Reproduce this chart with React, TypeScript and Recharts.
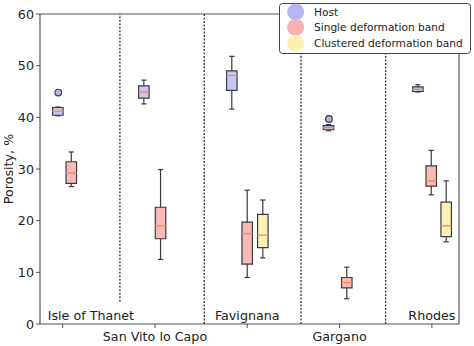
import React from "react";
import {
  Bar,
  ComposedChart,
  Legend,
  ReferenceArea,
  ReferenceLine,
  Scatter,
  XAxis,
  YAxis,
} from "recharts";

const sites = ["Isle of Thanet", "San Vito lo Capo", "Favignana", "Gargano", "Rhodes"];
const siteTicks = [1, 2, 3, 4, 5];
const yTicks = [0, 10, 20, 30, 40, 50, 60];
const xDomain = [0.754, 5.294];

// box stats per site: [min, q1, median, q3, max]
const hostPositions = [0.952, 1.884, 2.837, 3.885, 4.853];
const hostStats = [
  [40.3, 40.4, 41.2, 41.9, 42.0],
  [42.6, 43.7, 44.9, 46.1, 47.2],
  [41.6, 45.2, 48.1, 49.0, 51.8],
  [37.4, 37.6, 38.0, 38.4, 38.6],
  [44.9, 45.0, 45.4, 45.9, 46.3],
];
const hostOutliers = [
  [0.952, 44.8],
  [3.885, 39.7],
];

const singlePositions = [1.098, 2.065, 3.004, 4.083, 4.998];
const singleStats = [
  [26.6, 27.2, 29.2, 31.4, 33.3],
  [12.5, 16.5, 19.0, 22.6, 29.9],
  [9.0, 11.6, 17.5, 19.7, 25.9],
  [4.9, 7.0, 8.0, 9.0, 11.0],
  [25.0, 26.7, 27.7, 30.6, 33.6],
];

const clusteredPositions = [3.173, 5.16];
const clusteredStats = [
  [12.8, 14.8, 17.2, 21.2, 24.0],
  [15.9, 16.9, 19.0, 23.6, 27.7],
];

// dotted separators between sites, and where each one stops at the bottom
const dividers = [1.62, 2.534, 3.582, 4.499];
const dividerBottoms = [4.3, 0, 0, 0];

const series = [
  { name: "Host", box: "#c6c6f6", dot: "#b6b6f2" },
  { name: "Single deformation band", box: "#fbb8b8", dot: "#f8b2b2" },
  { name: "Clustered deformation band", box: "#fef1b8", dot: "#fcf1b4" },
];

const font = "'DejaVu Sans', sans-serif";
const edge = "#3a3a3a";
const frame = "#555";

type Row = {
  x: number;
  base: number;
  lowWhisker: number;
  lowBox: number;
  highBox: number;
  highWhisker: number;
  fill: string;
};

const buildRows = (positions: number[], stats: number[][], fill: string): Row[] =>
  positions.map((x, i) => {
    const [mn, q1, md, q3, mx] = stats[i];
    return {
      x,
      base: mn,
      lowWhisker: q1 - mn,
      lowBox: md - q1,
      highBox: q3 - md,
      highWhisker: mx - q3,
      fill,
    };
  });

const rows: Row[] = [
  ...buildRows(hostPositions, hostStats, series[0].box),
  ...buildRows(singlePositions, singleStats, series[1].box),
  ...buildRows(clusteredPositions, clusteredStats, series[2].box),
];

const outlierRows = hostOutliers.map(([x, y]) => ({ x, y }));

const Empty = () => <g />;

const whisker = (capAt: "top" | "bottom") =>
  function WhiskerShape(props: any) {
    const { x, y, width, height } = props;
    const cx = x + width / 2;
    const capY = capAt === "top" ? y : y + height;
    return (
      <g>
        <line x1={cx} x2={cx} y1={y} y2={y + height} stroke={edge} strokeWidth={1.2} />
        <line
          x1={cx - width / 4}
          x2={cx + width / 4}
          y1={capY}
          y2={capY}
          stroke={edge}
          strokeWidth={1.2}
        />
      </g>
    );
  };

// lower half of the box (q1..median) has no top edge, upper half (median..q3)
// has no bottom edge; the median line closes both
const box = (upper: boolean) =>
  function BoxShape(props: any) {
    const { x, y, width, height, payload } = props;
    const r = x + width;
    const b = y + height;
    const outline = upper
      ? `M${x},${b} L${x},${y} L${r},${y} L${r},${b}`
      : `M${x},${y} L${x},${b} L${r},${b} L${r},${y}`;
    return (
      <g>
        <rect x={x} y={y} width={width} height={height} fill={payload.fill} />
        <path d={outline} fill="none" stroke={edge} strokeWidth={1.2} />
        {upper && (
          <line x1={x} x2={r} y1={b} y2={b} stroke="#f28c48" strokeWidth={1.3} />
        )}
      </g>
    );
  };

function SiteTick({ x, y, payload, index }: any) {
  const label = sites[payload.value - 1];
  const style = { fontFamily: font, fontSize: 12.7, fill: "#222" };
  if (index % 2 === 1) {
    return (
      <text x={x} y={y + 11} textAnchor="middle" {...style}>
        {label}
      </text>
    );
  }
  // odd-numbered sites are written inside the axes, just above the bottom spine
  return (
    <text x={index === 0 ? x - 15 : x} y={y - 10.5} textAnchor={index === 0 ? "start" : "middle"} {...style}>
      {label}
    </text>
  );
}

function LegendBox() {
  const rowsY = [9, 24.3, 40.3];
  return (
    <svg width={193} height={52} style={{ display: "block" }}>
      <rect x={0.5} y={0.5} width={191} height={50} rx={3} fill="#fff" stroke="#444" strokeWidth={1} />
      {series.map((s, i) => (
        <g key={s.name}>
          <circle cx={16.7} cy={rowsY[i]} r={8.5} fill={s.dot} />
          <text x={35} y={rowsY[i] + 4} fontFamily={font} fontSize={10.6} fill="#222">
            {s.name}
          </text>
        </g>
      ))}
    </svg>
  );
}

export default function App() {
  return (
    <div style={{ position: "absolute", left: 0, top: 0, background: "#fff", fontFamily: font }}>
      <ComposedChart
        width={474}
        height={346}
        data={rows}
        margin={{ top: 14, right: 15, bottom: 0, left: 0 }}
      >
        <XAxis
          type="number"
          dataKey="x"
          domain={xDomain}
          ticks={siteTicks}
          interval={0}
          allowDataOverflow
          height={22}
          tickSize={4}
          axisLine={false}
          tickLine={{ stroke: frame }}
          tick={<SiteTick />}
        />
        <YAxis
          type="number"
          domain={[0, 60]}
          ticks={yTicks}
          interval={0}
          allowDataOverflow
          width={40}
          tickSize={4}
          axisLine={false}
          tickLine={{ stroke: frame }}
          tick={{ fontFamily: font, fontSize: 12.7, fill: "#222" }}
          label={{
            value: "Porosity, %",
            angle: -90,
            position: "center",
            dx: -12,
            style: { fontFamily: font, fontSize: 12.7, fill: "#222" },
          }}
        />
        <ReferenceArea
          x1={xDomain[0]}
          x2={xDomain[1]}
          y1={0}
          y2={60}
          fill="none"
          stroke={frame}
          strokeWidth={1.2}
          ifOverflow="visible"
        />
        {dividers.map((d, i) => (
          <ReferenceLine
            key={d}
            segment={[
              { x: d, y: dividerBottoms[i] },
              { x: d, y: 60 },
            ]}
            stroke="#333"
            strokeWidth={1.3}
            strokeDasharray="2 1.5"
          />
        ))}
        <Bar dataKey="base" stackId="b" barSize={10.5} fill="transparent" shape={Empty} isAnimationActive={false} />
        <Bar dataKey="lowWhisker" stackId="b" barSize={10.5} fill={edge} shape={whisker("bottom")} isAnimationActive={false} />
        <Bar dataKey="lowBox" stackId="b" barSize={10.5} fill={edge} shape={box(false)} isAnimationActive={false} />
        <Bar dataKey="highBox" stackId="b" barSize={10.5} fill={edge} shape={box(true)} isAnimationActive={false} />
        <Bar dataKey="highWhisker" stackId="b" barSize={10.5} fill={edge} shape={whisker("top")} isAnimationActive={false} />
        <Scatter
          data={outlierRows}
          dataKey="y"
          isAnimationActive={false}
          shape={(p: any) => (
            <circle cx={p.cx} cy={p.cy} r={3.3} fill={series[0].dot} stroke={edge} strokeWidth={1.2} />
          )}
        />
        <Legend
          layout="horizontal"
          verticalAlign="middle"
          content={<LegendBox />}
          wrapperStyle={{ position: "absolute", left: 279, top: 3, width: 193, height: 52 }}
        />
      </ComposedChart>
    </div>
  );
}
